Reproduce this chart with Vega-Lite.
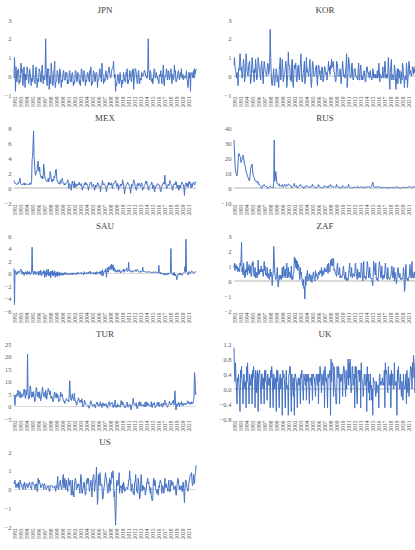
{
  "$schema": "https://vega.github.io/schema/vega-lite/v6.json",
  "background": "white",
  "padding": {"left": 4, "right": 2, "top": 6, "bottom": 0},
  "config": {
    "font": "Liberation Serif",
    "view": {"stroke": null},
    "title": {"font": "Liberation Serif", "fontSize": 9, "fontWeight": "normal", "color": "#404040", "offset": 2},
    "axis": {"labelFont": "Liberation Serif", "labelColor": "#595959", "domain": false, "ticks": false, "grid": false, "title": null},
    "axisX": {"labelAngle": -90, "labelFontSize": 5.5, "labelOverlap": false, "labelPadding": 1},
    "axisY": {"labelFontSize": 6.5, "labelPadding": 3, "labelOverlap": false},
    "line": {"color": "#4472C4", "strokeWidth": 1},
    "rule": {"color": "#d9d9d9", "strokeWidth": 0.8}
  },
  "datasets": {
    "m": [
{"t":"1992-01","JPN":-0.1,"KOR":0.6,"MEX":1.0,"RUS":32,"SAU":0.8,"ZAF":0.9,"TUR":4.8,"UK":1.1,"US":0.4},
{"t":"1992-02","JPN":1.0,"KOR":1.0,"MEX":0.8,"RUS":24,"SAU":-5.0,"ZAF":1.2,"TUR":3.2,"UK":0.5,"US":0.3},
{"t":"1992-03","JPN":0.2,"KOR":0.5,"MEX":0.6,"RUS":16,"SAU":0.5,"ZAF":0.7,"TUR":0.5,"UK":0.2,"US":0.5},
{"t":"1992-04","JPN":-0.8,"KOR":0.3,"MEX":0.6,"RUS":12,"SAU":0.1,"ZAF":1.0,"TUR":4.6,"UK":0.7,"US":0.2},
{"t":"1992-05","JPN":0.5,"KOR":0.2,"MEX":0.5,"RUS":10,"SAU":0.3,"ZAF":1.1,"TUR":3.7,"UK":0.3,"US":0.1},
{"t":"1992-06","JPN":0.0,"KOR":-0.1,"MEX":0.5,"RUS":9,"SAU":-0.2,"ZAF":0.8,"TUR":4.0,"UK":0.0,"US":0.3},
{"t":"1992-07","JPN":-0.3,"KOR":0.2,"MEX":0.5,"RUS":8,"SAU":0.2,"ZAF":1.0,"TUR":5.2,"UK":-0.4,"US":0.2},
{"t":"1992-08","JPN":0.3,"KOR":0.1,"MEX":0.5,"RUS":11,"SAU":0.0,"ZAF":0.6,"TUR":4.4,"UK":0.3,"US":0.3},
{"t":"1992-09","JPN":0.2,"KOR":-0.5,"MEX":0.7,"RUS":16,"SAU":0.3,"ZAF":0.9,"TUR":6.6,"UK":0.2,"US":0.1},
{"t":"1992-10","JPN":0.4,"KOR":0.4,"MEX":0.6,"RUS":22,"SAU":0.4,"ZAF":0.7,"TUR":5.8,"UK":0.4,"US":0.4},
{"t":"1992-11","JPN":-0.4,"KOR":0.3,"MEX":0.8,"RUS":23,"SAU":0.1,"ZAF":0.8,"TUR":4.2,"UK":0.1,"US":0.1},
{"t":"1992-12","JPN":-0.2,"KOR":0.7,"MEX":1.2,"RUS":22,"SAU":0.2,"ZAF":0.6,"TUR":3.6,"UK":-0.2,"US":0.0},
{"t":"1993-01","JPN":-0.3,"KOR":1.2,"MEX":1.3,"RUS":21,"SAU":0.4,"ZAF":1.2,"TUR":6.0,"UK":-0.6,"US":0.5},
{"t":"1993-02","JPN":0.1,"KOR":0.8,"MEX":0.6,"RUS":20,"SAU":0.6,"ZAF":1.0,"TUR":4.4,"UK":0.5,"US":0.4},
{"t":"1993-03","JPN":0.7,"KOR":0.3,"MEX":0.5,"RUS":17,"SAU":0.7,"ZAF":1.4,"TUR":3.5,"UK":0.3,"US":0.3},
{"t":"1993-04","JPN":0.2,"KOR":0.5,"MEX":0.5,"RUS":18,"SAU":0.2,"ZAF":2.6,"TUR":5.1,"UK":0.6,"US":0.3},
{"t":"1993-05","JPN":0.4,"KOR":-0.1,"MEX":0.4,"RUS":19,"SAU":-0.1,"ZAF":0.6,"TUR":4.7,"UK":0.2,"US":0.1},
{"t":"1993-06","JPN":-0.3,"KOR":0.0,"MEX":0.5,"RUS":20,"SAU":0.3,"ZAF":0.9,"TUR":3.9,"UK":0.1,"US":0.1},
{"t":"1993-07","JPN":-0.5,"KOR":0.5,"MEX":0.5,"RUS":22,"SAU":0.0,"ZAF":0.4,"TUR":4.3,"UK":-0.4,"US":0.0},
{"t":"1993-08","JPN":0.2,"KOR":0.9,"MEX":0.5,"RUS":21,"SAU":0.2,"ZAF":1.2,"TUR":5.5,"UK":0.3,"US":0.3},
{"t":"1993-09","JPN":0.5,"KOR":0.6,"MEX":0.7,"RUS":18,"SAU":-0.3,"ZAF":0.8,"TUR":7.0,"UK":0.4,"US":0.2},
{"t":"1993-10","JPN":0.0,"KOR":-0.3,"MEX":0.4,"RUS":16,"SAU":0.1,"ZAF":0.2,"TUR":6.2,"UK":0.1,"US":0.4},
{"t":"1993-11","JPN":-0.6,"KOR":-0.1,"MEX":0.4,"RUS":15,"SAU":0.2,"ZAF":0.7,"TUR":3.8,"UK":0.0,"US":0.1},
{"t":"1993-12","JPN":0.1,"KOR":0.2,"MEX":0.6,"RUS":13,"SAU":0.0,"ZAF":0.3,"TUR":3.2,"UK":0.2,"US":0.0},
{"t":"1994-01","JPN":-0.2,"KOR":1.2,"MEX":0.5,"RUS":11,"SAU":0.3,"ZAF":0.8,"TUR":6.5,"UK":-0.5,"US":0.3},
{"t":"1994-02","JPN":-0.1,"KOR":0.9,"MEX":0.5,"RUS":10,"SAU":-0.2,"ZAF":0.6,"TUR":4.5,"UK":0.6,"US":0.3},
{"t":"1994-03","JPN":0.5,"KOR":0.3,"MEX":0.5,"RUS":9,"SAU":0.1,"ZAF":1.3,"TUR":6.2,"UK":0.2,"US":0.3},
{"t":"1994-04","JPN":0.3,"KOR":0.1,"MEX":0.5,"RUS":8,"SAU":0.4,"ZAF":0.4,"TUR":21.0,"UK":0.7,"US":0.1},
{"t":"1994-05","JPN":0.1,"KOR":0.0,"MEX":0.5,"RUS":7,"SAU":-0.1,"ZAF":0.9,"TUR":5.9,"UK":0.2,"US":0.1},
{"t":"1994-06","JPN":-0.4,"KOR":0.5,"MEX":0.5,"RUS":6,"SAU":0.2,"ZAF":0.7,"TUR":2.9,"UK":0.1,"US":0.3},
{"t":"1994-07","JPN":-0.2,"KOR":0.7,"MEX":0.4,"RUS":5,"SAU":0.0,"ZAF":1.1,"TUR":3.1,"UK":-0.4,"US":0.3},
{"t":"1994-08","JPN":0.4,"KOR":0.8,"MEX":0.5,"RUS":5,"SAU":0.3,"ZAF":0.5,"TUR":3.8,"UK":0.4,"US":0.4},
{"t":"1994-09","JPN":0.2,"KOR":0.2,"MEX":0.7,"RUS":8,"SAU":-0.2,"ZAF":0.6,"TUR":8.2,"UK":0.3,"US":0.2},
{"t":"1994-10","JPN":0.0,"KOR":-0.4,"MEX":0.5,"RUS":13,"SAU":0.1,"ZAF":1.0,"TUR":8.1,"UK":0.1,"US":0.1},
{"t":"1994-11","JPN":-0.5,"KOR":-0.2,"MEX":0.5,"RUS":14,"SAU":0.0,"ZAF":0.3,"TUR":4.8,"UK":0.1,"US":0.1},
{"t":"1994-12","JPN":-0.1,"KOR":0.4,"MEX":0.9,"RUS":15,"SAU":0.2,"ZAF":0.4,"TUR":3.6,"UK":0.4,"US":0.0},
{"t":"1995-01","JPN":-0.3,"KOR":1.0,"MEX":3.8,"RUS":16,"SAU":4.2,"ZAF":1.2,"TUR":5.8,"UK":-0.4,"US":0.4},
{"t":"1995-02","JPN":-0.2,"KOR":0.6,"MEX":4.2,"RUS":12,"SAU":0.3,"ZAF":1.0,"TUR":4.1,"UK":0.5,"US":0.4},
{"t":"1995-03","JPN":0.6,"KOR":0.2,"MEX":5.9,"RUS":9,"SAU":0.1,"ZAF":1.3,"TUR":3.8,"UK":0.3,"US":0.3},
{"t":"1995-04","JPN":0.1,"KOR":0.3,"MEX":7.6,"RUS":8,"SAU":-0.2,"ZAF":0.6,"TUR":6.0,"UK":0.6,"US":0.3},
{"t":"1995-05","JPN":-0.2,"KOR":-0.3,"MEX":4.2,"RUS":7,"SAU":0.4,"ZAF":0.3,"TUR":4.0,"UK":0.3,"US":0.2},
{"t":"1995-06","JPN":-0.3,"KOR":0.4,"MEX":3.2,"RUS":6,"SAU":0.1,"ZAF":0.5,"TUR":2.0,"UK":0.2,"US":0.2},
{"t":"1995-07","JPN":-0.4,"KOR":0.2,"MEX":2.0,"RUS":5,"SAU":-0.1,"ZAF":0.9,"TUR":2.1,"UK":-0.5,"US":0.0},
{"t":"1995-08","JPN":0.3,"KOR":0.9,"MEX":1.7,"RUS":4.5,"SAU":0.3,"ZAF":0.2,"TUR":3.2,"UK":0.5,"US":0.3},
{"t":"1995-09","JPN":0.5,"KOR":0.5,"MEX":2.1,"RUS":4,"SAU":0.2,"ZAF":0.6,"TUR":7.6,"UK":0.4,"US":0.2},
{"t":"1995-10","JPN":0.2,"KOR":-0.2,"MEX":2.1,"RUS":4.7,"SAU":-0.2,"ZAF":0.4,"TUR":7.2,"UK":-0.1,"US":0.3},
{"t":"1995-11","JPN":-0.6,"KOR":-0.1,"MEX":2.5,"RUS":4.5,"SAU":0.1,"ZAF":0.2,"TUR":5.2,"UK":0.0,"US":-0.1},
{"t":"1995-12","JPN":-0.2,"KOR":0.2,"MEX":3.3,"RUS":3.2,"SAU":0.3,"ZAF":0.3,"TUR":4.0,"UK":0.5,"US":-0.1},
{"t":"1996-01","JPN":-0.1,"KOR":1.0,"MEX":3.6,"RUS":4.1,"SAU":0.2,"ZAF":1.4,"TUR":5.7,"UK":-0.6,"US":0.6},
{"t":"1996-02","JPN":-0.3,"KOR":0.7,"MEX":2.3,"RUS":2.8,"SAU":-0.3,"ZAF":0.4,"TUR":4.6,"UK":0.4,"US":0.3},
{"t":"1996-03","JPN":0.4,"KOR":0.5,"MEX":2.2,"RUS":2.0,"SAU":0.4,"ZAF":0.7,"TUR":3.3,"UK":0.4,"US":0.5},
{"t":"1996-04","JPN":0.3,"KOR":0.3,"MEX":2.8,"RUS":2.2,"SAU":0.1,"ZAF":0.5,"TUR":5.9,"UK":0.5,"US":0.4},
{"t":"1996-05","JPN":0.2,"KOR":0.0,"MEX":1.8,"RUS":1.6,"SAU":-0.2,"ZAF":0.8,"TUR":4.2,"UK":0.2,"US":0.3},
{"t":"1996-06","JPN":-0.3,"KOR":-0.2,"MEX":1.6,"RUS":1.2,"SAU":0.5,"ZAF":0.6,"TUR":2.3,"UK":0.0,"US":0.1},
{"t":"1996-07","JPN":-0.3,"KOR":0.6,"MEX":1.4,"RUS":0.7,"SAU":0.0,"ZAF":1.0,"TUR":3.3,"UK":-0.4,"US":0.1},
{"t":"1996-08","JPN":0.2,"KOR":0.8,"MEX":1.3,"RUS":-0.2,"SAU":-0.4,"ZAF":0.6,"TUR":4.6,"UK":0.4,"US":0.2},
{"t":"1996-09","JPN":0.6,"KOR":0.4,"MEX":1.6,"RUS":0.3,"SAU":0.3,"ZAF":0.7,"TUR":7.0,"UK":0.4,"US":0.3},
{"t":"1996-10","JPN":0.1,"KOR":0.1,"MEX":1.2,"RUS":1.2,"SAU":0.2,"ZAF":0.8,"TUR":7.8,"UK":0.1,"US":0.3},
{"t":"1996-11","JPN":-0.4,"KOR":-0.4,"MEX":1.5,"RUS":1.9,"SAU":-0.1,"ZAF":0.3,"TUR":5.1,"UK":0.0,"US":0.2},
{"t":"1996-12","JPN":0.0,"KOR":0.3,"MEX":3.2,"RUS":1.4,"SAU":0.4,"ZAF":0.6,"TUR":4.1,"UK":0.3,"US":0.0},
{"t":"1997-01","JPN":-0.1,"KOR":0.8,"MEX":2.6,"RUS":2.3,"SAU":0.5,"ZAF":1.3,"TUR":5.6,"UK":-0.4,"US":0.3},
{"t":"1997-02","JPN":-0.2,"KOR":0.6,"MEX":1.7,"RUS":1.5,"SAU":-0.6,"ZAF":0.7,"TUR":4.9,"UK":0.5,"US":0.3},
{"t":"1997-03","JPN":0.3,"KOR":0.3,"MEX":1.2,"RUS":1.4,"SAU":0.2,"ZAF":1.0,"TUR":3.5,"UK":0.2,"US":0.2},
{"t":"1997-04","JPN":2.0,"KOR":0.2,"MEX":1.1,"RUS":1.0,"SAU":0.3,"ZAF":0.4,"TUR":6.5,"UK":0.5,"US":0.1},
{"t":"1997-05","JPN":0.3,"KOR":0.1,"MEX":0.9,"RUS":0.9,"SAU":-0.5,"ZAF":0.5,"TUR":5.1,"UK":0.2,"US":0.0},
{"t":"1997-06","JPN":-0.2,"KOR":0.0,"MEX":0.9,"RUS":1.1,"SAU":0.6,"ZAF":0.3,"TUR":2.9,"UK":0.1,"US":0.1},
{"t":"1997-07","JPN":-0.5,"KOR":0.4,"MEX":0.9,"RUS":0.9,"SAU":-0.2,"ZAF":0.9,"TUR":4.5,"UK":-0.3,"US":0.1},
{"t":"1997-08","JPN":0.4,"KOR":0.7,"MEX":0.9,"RUS":-0.1,"SAU":0.1,"ZAF":0.4,"TUR":5.6,"UK":0.4,"US":0.2},
{"t":"1997-09","JPN":0.3,"KOR":0.6,"MEX":1.3,"RUS":-0.3,"SAU":0.7,"ZAF":0.2,"TUR":7.3,"UK":0.3,"US":0.2},
{"t":"1997-10","JPN":0.4,"KOR":0.1,"MEX":0.8,"RUS":0.2,"SAU":-0.4,"ZAF":0.5,"TUR":6.6,"UK":0.1,"US":0.2},
{"t":"1997-11","JPN":-0.7,"KOR":0.3,"MEX":1.1,"RUS":0.6,"SAU":0.2,"ZAF":0.1,"TUR":5.7,"UK":0.1,"US":-0.1},
{"t":"1997-12","JPN":0.0,"KOR":0.7,"MEX":1.4,"RUS":1.0,"SAU":-0.3,"ZAF":0.3,"TUR":4.6,"UK":0.3,"US":-0.1},
{"t":"1998-01","JPN":-0.2,"KOR":2.5,"MEX":2.2,"RUS":1.5,"SAU":0.3,"ZAF":0.8,"TUR":6.3,"UK":-0.5,"US":0.2},
{"t":"1998-02","JPN":-0.4,"KOR":1.0,"MEX":1.8,"RUS":0.9,"SAU":-0.7,"ZAF":0.3,"TUR":4.4,"UK":0.5,"US":0.2},
{"t":"1998-03","JPN":0.7,"KOR":0.2,"MEX":1.2,"RUS":0.6,"SAU":0.4,"ZAF":0.6,"TUR":3.2,"UK":0.3,"US":0.2},
{"t":"1998-04","JPN":0.3,"KOR":-0.4,"MEX":0.9,"RUS":0.4,"SAU":0.1,"ZAF":0.5,"TUR":4.2,"UK":0.6,"US":0.2},
{"t":"1998-05","JPN":0.0,"KOR":-0.5,"MEX":0.8,"RUS":0.5,"SAU":-0.3,"ZAF":-0.3,"TUR":3.6,"UK":0.4,"US":0.2},
{"t":"1998-06","JPN":-0.5,"KOR":-0.2,"MEX":1.2,"RUS":0.1,"SAU":0.5,"ZAF":0.4,"TUR":2.3,"UK":-0.1,"US":0.1},
{"t":"1998-07","JPN":-0.4,"KOR":0.1,"MEX":1.0,"RUS":0.2,"SAU":-0.4,"ZAF":0.5,"TUR":1.9,"UK":-0.5,"US":0.1},
{"t":"1998-08","JPN":0.2,"KOR":0.4,"MEX":1.0,"RUS":3.7,"SAU":0.2,"ZAF":2.3,"TUR":2.9,"UK":0.4,"US":0.1},
{"t":"1998-09","JPN":0.4,"KOR":-0.3,"MEX":1.6,"RUS":32,"SAU":-0.2,"ZAF":1.5,"TUR":5.2,"UK":0.3,"US":0.1},
{"t":"1998-10","JPN":0.8,"KOR":-0.5,"MEX":1.4,"RUS":4.5,"SAU":0.4,"ZAF":0.6,"TUR":5.8,"UK":0.0,"US":0.2},
{"t":"1998-11","JPN":-0.6,"KOR":-0.1,"MEX":1.8,"RUS":5.7,"SAU":-0.6,"ZAF":0.3,"TUR":3.9,"UK":0.1,"US":0.0},
{"t":"1998-12","JPN":-0.3,"KOR":0.1,"MEX":2.4,"RUS":11,"SAU":0.1,"ZAF":0.1,"TUR":3.6,"UK":0.3,"US":-0.1},
{"t":"1999-01","JPN":-0.3,"KOR":0.4,"MEX":2.5,"RUS":8.4,"SAU":-0.3,"ZAF":0.2,"TUR":5.3,"UK":-0.6,"US":0.2},
{"t":"1999-02","JPN":-0.2,"KOR":0.2,"MEX":1.3,"RUS":4.1,"SAU":0.2,"ZAF":0.3,"TUR":3.4,"UK":0.5,"US":0.1},
{"t":"1999-03","JPN":0.3,"KOR":-0.3,"MEX":0.9,"RUS":2.8,"SAU":-0.5,"ZAF":0.9,"TUR":3.9,"UK":0.2,"US":0.3},
{"t":"1999-04","JPN":0.2,"KOR":0.0,"MEX":0.9,"RUS":3.0,"SAU":0.3,"ZAF":0.1,"TUR":4.9,"UK":0.5,"US":0.7},
{"t":"1999-05","JPN":0.0,"KOR":-0.2,"MEX":0.6,"RUS":2.2,"SAU":-0.2,"ZAF":-0.4,"TUR":3.4,"UK":0.2,"US":0.0},
{"t":"1999-06","JPN":-0.4,"KOR":-0.6,"MEX":0.6,"RUS":1.9,"SAU":0.1,"ZAF":0.0,"TUR":1.9,"UK":-0.1,"US":0.0},
{"t":"1999-07","JPN":-0.3,"KOR":0.3,"MEX":0.6,"RUS":2.8,"SAU":-0.4,"ZAF":0.4,"TUR":2.4,"UK":-0.5,"US":0.3},
{"t":"1999-08","JPN":0.4,"KOR":0.6,"MEX":0.5,"RUS":1.2,"SAU":0.2,"ZAF":0.1,"TUR":2.3,"UK":0.3,"US":0.3},
{"t":"1999-09","JPN":0.3,"KOR":1.0,"MEX":1.0,"RUS":1.5,"SAU":0.0,"ZAF":0.2,"TUR":4.6,"UK":0.4,"US":0.5},
{"t":"1999-10","JPN":0.0,"KOR":-0.2,"MEX":0.6,"RUS":1.4,"SAU":-0.3,"ZAF":0.4,"TUR":5.8,"UK":0.0,"US":0.2},
{"t":"1999-11","JPN":-0.6,"KOR":0.1,"MEX":0.9,"RUS":1.2,"SAU":0.1,"ZAF":0.1,"TUR":4.0,"UK":0.1,"US":0.1},
{"t":"1999-12","JPN":-0.2,"KOR":0.2,"MEX":1.0,"RUS":1.3,"SAU":-0.2,"ZAF":0.3,"TUR":4.7,"UK":0.3,"US":0.0},
{"t":"2000-01","JPN":-0.3,"KOR":0.9,"MEX":1.3,"RUS":2.3,"SAU":-0.2,"ZAF":0.9,"TUR":4.9,"UK":-0.7,"US":0.3},
{"t":"2000-02","JPN":-0.1,"KOR":0.4,"MEX":0.9,"RUS":1.0,"SAU":0.1,"ZAF":0.2,"TUR":3.6,"UK":0.5,"US":0.6},
{"t":"2000-03","JPN":0.3,"KOR":-0.3,"MEX":0.6,"RUS":0.6,"SAU":-0.3,"ZAF":0.7,"TUR":2.2,"UK":0.3,"US":0.8},
{"t":"2000-04","JPN":0.3,"KOR":-0.1,"MEX":0.5,"RUS":0.9,"SAU":0.0,"ZAF":1.0,"TUR":2.1,"UK":0.4,"US":0.1},
{"t":"2000-05","JPN":-0.2,"KOR":0.1,"MEX":0.4,"RUS":1.8,"SAU":-0.1,"ZAF":0.3,"TUR":2.2,"UK":0.3,"US":0.1},
{"t":"2000-06","JPN":-0.2,"KOR":0.2,"MEX":0.6,"RUS":2.6,"SAU":0.2,"ZAF":0.6,"TUR":1.2,"UK":0.0,"US":0.6},
{"t":"2000-07","JPN":-0.2,"KOR":0.4,"MEX":0.4,"RUS":1.8,"SAU":-0.2,"ZAF":0.8,"TUR":2.3,"UK":-0.5,"US":0.3},
{"t":"2000-08","JPN":0.2,"KOR":0.8,"MEX":0.6,"RUS":1.0,"SAU":0.0,"ZAF":0.2,"TUR":2.3,"UK":0.2,"US":0.0},
{"t":"2000-09","JPN":0.1,"KOR":0.5,"MEX":0.7,"RUS":1.3,"SAU":-0.1,"ZAF":0.7,"TUR":3.2,"UK":0.5,"US":0.5},
{"t":"2000-10","JPN":0.2,"KOR":-0.6,"MEX":0.7,"RUS":2.1,"SAU":0.1,"ZAF":1.2,"TUR":2.9,"UK":0.0,"US":0.2},
{"t":"2000-11","JPN":-0.4,"KOR":-0.2,"MEX":0.9,"RUS":1.5,"SAU":-0.2,"ZAF":0.5,"TUR":2.6,"UK":0.1,"US":0.1},
{"t":"2000-12","JPN":-0.2,"KOR":0.1,"MEX":1.1,"RUS":1.6,"SAU":0.0,"ZAF":0.2,"TUR":2.2,"UK":0.1,"US":-0.1},
{"t":"2001-01","JPN":-0.4,"KOR":1.3,"MEX":0.6,"RUS":2.8,"SAU":-0.1,"ZAF":0.9,"TUR":2.5,"UK":-0.7,"US":0.6},
{"t":"2001-02","JPN":-0.2,"KOR":0.6,"MEX":-0.1,"RUS":2.3,"SAU":-0.2,"ZAF":0.3,"TUR":1.8,"UK":0.4,"US":0.4},
{"t":"2001-03","JPN":0.2,"KOR":0.6,"MEX":0.6,"RUS":1.9,"SAU":0.0,"ZAF":0.6,"TUR":6.1,"UK":0.4,"US":0.2},
{"t":"2001-04","JPN":0.3,"KOR":0.5,"MEX":0.5,"RUS":1.8,"SAU":-0.1,"ZAF":0.6,"TUR":10.3,"UK":0.6,"US":0.4},
{"t":"2001-05","JPN":-0.2,"KOR":-0.2,"MEX":0.3,"RUS":1.8,"SAU":0.1,"ZAF":0.2,"TUR":5.1,"UK":0.6,"US":0.5},
{"t":"2001-06","JPN":-0.3,"KOR":0.0,"MEX":0.3,"RUS":1.6,"SAU":-0.2,"ZAF":0.4,"TUR":3.1,"UK":0.0,"US":0.2},
{"t":"2001-07","JPN":-0.3,"KOR":-0.3,"MEX":-0.3,"RUS":0.5,"SAU":0.0,"ZAF":1.0,"TUR":2.4,"UK":-0.6,"US":-0.3},
{"t":"2001-08","JPN":0.1,"KOR":0.8,"MEX":0.6,"RUS":0.0,"SAU":-0.1,"ZAF":0.1,"TUR":3.4,"UK":0.4,"US":0.0},
{"t":"2001-09","JPN":0.2,"KOR":0.9,"MEX":0.9,"RUS":0.6,"SAU":0.1,"ZAF":0.3,"TUR":5.1,"UK":0.2,"US":0.5},
{"t":"2001-10","JPN":0.1,"KOR":-0.3,"MEX":0.4,"RUS":1.1,"SAU":-0.2,"ZAF":0.1,"TUR":3.1,"UK":0.0,"US":-0.3},
{"t":"2001-11","JPN":-0.5,"KOR":-0.6,"MEX":0.4,"RUS":1.4,"SAU":0.0,"ZAF":0.5,"TUR":2.9,"UK":-0.2,"US":-0.1},
{"t":"2001-12","JPN":-0.3,"KOR":0.1,"MEX":0.1,"RUS":1.6,"SAU":0.1,"ZAF":0.6,"TUR":2.3,"UK":0.3,"US":-0.4},
{"t":"2002-01","JPN":-0.4,"KOR":0.6,"MEX":0.9,"RUS":3.1,"SAU":-0.1,"ZAF":1.6,"TUR":5.3,"UK":-0.7,"US":0.2},
{"t":"2002-02","JPN":-0.2,"KOR":0.4,"MEX":0.0,"RUS":1.2,"SAU":0.0,"ZAF":1.2,"TUR":3.0,"UK":0.4,"US":0.4},
{"t":"2002-03","JPN":0.3,"KOR":0.5,"MEX":0.6,"RUS":1.1,"SAU":0.1,"ZAF":1.5,"TUR":1.9,"UK":0.4,"US":0.6},
{"t":"2002-04","JPN":0.3,"KOR":0.7,"MEX":0.5,"RUS":1.2,"SAU":-0.2,"ZAF":0.9,"TUR":2.1,"UK":0.3,"US":0.5},
{"t":"2002-05","JPN":0.0,"KOR":-0.1,"MEX":0.2,"RUS":1.7,"SAU":0.0,"ZAF":1.4,"TUR":0.6,"UK":0.2,"US":0.0},
{"t":"2002-06","JPN":-0.3,"KOR":-0.3,"MEX":0.5,"RUS":0.5,"SAU":0.1,"ZAF":0.8,"TUR":0.6,"UK":0.0,"US":0.1},
{"t":"2002-07","JPN":-0.2,"KOR":0.1,"MEX":0.3,"RUS":0.7,"SAU":-0.1,"ZAF":1.3,"TUR":1.9,"UK":-0.5,"US":0.1},
{"t":"2002-08","JPN":0.2,"KOR":0.5,"MEX":0.4,"RUS":0.1,"SAU":0.2,"ZAF":0.7,"TUR":2.2,"UK":0.2,"US":0.3},
{"t":"2002-09","JPN":0.1,"KOR":0.6,"MEX":0.6,"RUS":0.4,"SAU":0.0,"ZAF":1.1,"TUR":3.5,"UK":0.3,"US":0.2},
{"t":"2002-10","JPN":0.1,"KOR":0.0,"MEX":0.4,"RUS":1.1,"SAU":-0.1,"ZAF":1.0,"TUR":3.0,"UK":0.1,"US":0.3},
{"t":"2002-11","JPN":-0.4,"KOR":-0.2,"MEX":0.8,"RUS":1.6,"SAU":0.1,"ZAF":0.5,"TUR":2.3,"UK":0.1,"US":0.0},
{"t":"2002-12","JPN":-0.2,"KOR":0.3,"MEX":0.4,"RUS":1.5,"SAU":0.0,"ZAF":0.1,"TUR":1.6,"UK":0.3,"US":-0.2},
{"t":"2003-01","JPN":-0.5,"KOR":0.7,"MEX":0.4,"RUS":2.4,"SAU":0.1,"ZAF":0.9,"TUR":2.6,"UK":-0.4,"US":0.4},
{"t":"2003-02","JPN":-0.1,"KOR":1.2,"MEX":0.3,"RUS":1.6,"SAU":0.0,"ZAF":0.4,"TUR":1.9,"UK":0.4,"US":0.8},
{"t":"2003-03","JPN":0.4,"KOR":0.6,"MEX":0.6,"RUS":1.1,"SAU":0.2,"ZAF":0.6,"TUR":1.6,"UK":0.3,"US":0.6},
{"t":"2003-04","JPN":0.3,"KOR":-0.2,"MEX":0.2,"RUS":1.0,"SAU":-0.1,"ZAF":0.2,"TUR":3.1,"UK":0.5,"US":-0.2},
{"t":"2003-05","JPN":-0.1,"KOR":-0.3,"MEX":-0.3,"RUS":0.8,"SAU":0.0,"ZAF":-0.1,"TUR":1.3,"UK":0.1,"US":-0.2},
{"t":"2003-06","JPN":-0.2,"KOR":0.0,"MEX":0.1,"RUS":0.8,"SAU":0.1,"ZAF":-0.3,"TUR":-0.2,"UK":0.0,"US":0.1},
{"t":"2003-07","JPN":-0.3,"KOR":0.2,"MEX":0.1,"RUS":0.7,"SAU":-0.2,"ZAF":0.1,"TUR":0.0,"UK":-0.3,"US":0.1},
{"t":"2003-08","JPN":0.3,"KOR":0.4,"MEX":0.3,"RUS":-0.4,"SAU":0.0,"ZAF":-0.5,"TUR":0.5,"UK":0.4,"US":0.4},
{"t":"2003-09","JPN":0.2,"KOR":0.8,"MEX":0.6,"RUS":0.3,"SAU":0.3,"ZAF":-0.4,"TUR":2.5,"UK":0.3,"US":0.3},
{"t":"2003-10","JPN":0.1,"KOR":-0.4,"MEX":0.4,"RUS":1.0,"SAU":-0.1,"ZAF":-1.2,"TUR":1.5,"UK":0.2,"US":-0.1},
{"t":"2003-11","JPN":-0.5,"KOR":-0.2,"MEX":0.8,"RUS":1.0,"SAU":0.1,"ZAF":0.3,"TUR":1.5,"UK":0.1,"US":-0.3},
{"t":"2003-12","JPN":-0.2,"KOR":0.3,"MEX":0.4,"RUS":1.1,"SAU":0.0,"ZAF":-0.3,"TUR":0.8,"UK":0.4,"US":-0.2},
{"t":"2004-01","JPN":-0.3,"KOR":1.0,"MEX":0.6,"RUS":1.8,"SAU":0.1,"ZAF":0.3,"TUR":0.7,"UK":-0.3,"US":0.5},
{"t":"2004-02","JPN":-0.1,"KOR":0.2,"MEX":0.6,"RUS":1.0,"SAU":0.2,"ZAF":0.4,"TUR":0.5,"UK":0.4,"US":0.5},
{"t":"2004-03","JPN":0.2,"KOR":0.4,"MEX":0.3,"RUS":0.8,"SAU":-0.1,"ZAF":0.7,"TUR":0.4,"UK":0.2,"US":0.6},
{"t":"2004-04","JPN":0.2,"KOR":0.2,"MEX":0.2,"RUS":1.0,"SAU":0.0,"ZAF":0.0,"TUR":0.4,"UK":0.3,"US":0.3},
{"t":"2004-05","JPN":0.0,"KOR":0.0,"MEX":-0.3,"RUS":0.7,"SAU":0.2,"ZAF":0.2,"TUR":0.3,"UK":0.4,"US":0.6},
{"t":"2004-06","JPN":-0.2,"KOR":0.1,"MEX":0.2,"RUS":0.8,"SAU":0.0,"ZAF":0.3,"TUR":-0.7,"UK":-0.1,"US":0.3},
{"t":"2004-07","JPN":-0.3,"KOR":0.6,"MEX":0.3,"RUS":0.9,"SAU":0.1,"ZAF":0.5,"TUR":0.1,"UK":-0.4,"US":-0.1},
{"t":"2004-08","JPN":0.3,"KOR":0.9,"MEX":0.6,"RUS":0.4,"SAU":0.4,"ZAF":0.1,"TUR":0.6,"UK":0.3,"US":0.1},
{"t":"2004-09","JPN":0.1,"KOR":0.2,"MEX":0.8,"RUS":0.4,"SAU":-0.1,"ZAF":0.0,"TUR":2.1,"UK":0.2,"US":0.2},
{"t":"2004-10","JPN":0.5,"KOR":-0.3,"MEX":0.7,"RUS":1.1,"SAU":0.1,"ZAF":0.4,"TUR":2.3,"UK":0.3,"US":0.5},
{"t":"2004-11","JPN":-0.5,"KOR":-0.6,"MEX":0.8,"RUS":1.1,"SAU":0.2,"ZAF":0.1,"TUR":1.4,"UK":0.1,"US":0.1},
{"t":"2004-12","JPN":-0.3,"KOR":0.0,"MEX":0.2,"RUS":1.1,"SAU":0.0,"ZAF":-0.1,"TUR":0.6,"UK":0.4,"US":-0.4},
{"t":"2005-01","JPN":-0.4,"KOR":0.8,"MEX":0.3,"RUS":2.6,"SAU":0.0,"ZAF":0.2,"TUR":0.6,"UK":-0.3,"US":0.2},
{"t":"2005-02","JPN":-0.2,"KOR":0.7,"MEX":0.3,"RUS":1.2,"SAU":0.1,"ZAF":0.4,"TUR":0.0,"UK":0.4,"US":0.6},
{"t":"2005-03","JPN":0.3,"KOR":0.3,"MEX":0.5,"RUS":1.3,"SAU":0.2,"ZAF":0.6,"TUR":0.3,"UK":0.4,"US":0.8},
{"t":"2005-04","JPN":0.2,"KOR":0.0,"MEX":0.3,"RUS":1.1,"SAU":-0.1,"ZAF":0.3,"TUR":0.7,"UK":0.3,"US":0.7},
{"t":"2005-05","JPN":0.1,"KOR":0.0,"MEX":-0.3,"RUS":0.8,"SAU":0.1,"ZAF":0.1,"TUR":1.0,"UK":0.3,"US":-0.1},
{"t":"2005-06","JPN":-0.3,"KOR":0.1,"MEX":-0.1,"RUS":0.6,"SAU":0.0,"ZAF":0.0,"TUR":0.1,"UK":0.1,"US":0.1},
{"t":"2005-07","JPN":-0.2,"KOR":0.3,"MEX":0.4,"RUS":0.5,"SAU":0.2,"ZAF":0.7,"TUR":-0.6,"UK":-0.2,"US":0.5},
{"t":"2005-08","JPN":0.2,"KOR":0.5,"MEX":0.1,"RUS":-0.1,"SAU":-0.2,"ZAF":0.3,"TUR":0.9,"UK":0.3,"US":0.5},
{"t":"2005-09","JPN":0.2,"KOR":0.6,"MEX":0.4,"RUS":0.3,"SAU":0.3,"ZAF":0.5,"TUR":1.0,"UK":0.4,"US":1.2},
{"t":"2005-10","JPN":0.1,"KOR":-0.2,"MEX":0.3,"RUS":0.6,"SAU":0.1,"ZAF":0.4,"TUR":1.8,"UK":0.2,"US":0.2},
{"t":"2005-11","JPN":-0.6,"KOR":-0.5,"MEX":0.7,"RUS":0.7,"SAU":0.0,"ZAF":0.1,"TUR":1.4,"UK":0.1,"US":-0.8},
{"t":"2005-12","JPN":-0.2,"KOR":0.2,"MEX":0.6,"RUS":0.8,"SAU":0.2,"ZAF":0.2,"TUR":0.4,"UK":0.4,"US":-0.4},
{"t":"2006-01","JPN":-0.2,"KOR":0.6,"MEX":0.6,"RUS":2.4,"SAU":0.1,"ZAF":0.6,"TUR":0.8,"UK":-0.4,"US":0.8},
{"t":"2006-02","JPN":-0.1,"KOR":0.5,"MEX":0.2,"RUS":1.7,"SAU":0.2,"ZAF":0.5,"TUR":0.2,"UK":0.4,"US":0.2},
{"t":"2006-03","JPN":0.3,"KOR":0.1,"MEX":0.1,"RUS":0.8,"SAU":-0.1,"ZAF":0.4,"TUR":0.3,"UK":0.2,"US":0.6},
{"t":"2006-04","JPN":0.4,"KOR":0.3,"MEX":0.2,"RUS":0.4,"SAU":0.3,"ZAF":0.7,"TUR":1.3,"UK":0.6,"US":0.9},
{"t":"2006-05","JPN":0.0,"KOR":-0.1,"MEX":-0.5,"RUS":0.5,"SAU":0.0,"ZAF":0.6,"TUR":1.9,"UK":0.5,"US":0.5},
{"t":"2006-06","JPN":-0.1,"KOR":-0.2,"MEX":0.1,"RUS":0.3,"SAU":0.4,"ZAF":0.5,"TUR":0.3,"UK":0.2,"US":0.2},
{"t":"2006-07","JPN":-0.3,"KOR":0.3,"MEX":0.3,"RUS":0.7,"SAU":-0.3,"ZAF":0.9,"TUR":0.9,"UK":-0.1,"US":0.3},
{"t":"2006-08","JPN":0.7,"KOR":0.5,"MEX":0.5,"RUS":0.2,"SAU":0.2,"ZAF":0.3,"TUR":-0.4,"UK":0.4,"US":0.2},
{"t":"2006-09","JPN":0.1,"KOR":0.4,"MEX":1.0,"RUS":0.1,"SAU":0.6,"ZAF":0.6,"TUR":1.3,"UK":0.2,"US":-0.5},
{"t":"2006-10","JPN":0.1,"KOR":-0.3,"MEX":0.4,"RUS":0.3,"SAU":-0.4,"ZAF":0.7,"TUR":1.3,"UK":0.1,"US":-0.5},
{"t":"2006-11","JPN":-0.4,"KOR":-0.2,"MEX":0.5,"RUS":0.6,"SAU":0.1,"ZAF":0.4,"TUR":1.3,"UK":0.3,"US":-0.1},
{"t":"2006-12","JPN":-0.1,"KOR":0.1,"MEX":0.6,"RUS":0.8,"SAU":0.3,"ZAF":0.5,"TUR":0.2,"UK":0.5,"US":0.1},
{"t":"2007-01","JPN":-0.3,"KOR":0.5,"MEX":0.5,"RUS":1.7,"SAU":0.2,"ZAF":0.9,"TUR":1.0,"UK":-0.5,"US":0.3},
{"t":"2007-02","JPN":-0.2,"KOR":0.5,"MEX":0.3,"RUS":1.1,"SAU":0.5,"ZAF":0.6,"TUR":0.4,"UK":0.6,"US":0.6},
{"t":"2007-03","JPN":0.2,"KOR":0.2,"MEX":0.2,"RUS":0.6,"SAU":0.3,"ZAF":0.8,"TUR":0.9,"UK":0.4,"US":0.9},
{"t":"2007-04","JPN":0.3,"KOR":0.1,"MEX":-0.1,"RUS":0.6,"SAU":0.8,"ZAF":0.7,"TUR":1.2,"UK":0.2,"US":0.6},
{"t":"2007-05","JPN":0.0,"KOR":0.2,"MEX":-0.5,"RUS":0.6,"SAU":-0.6,"ZAF":0.6,"TUR":0.5,"UK":0.3,"US":0.6},
{"t":"2007-06","JPN":-0.1,"KOR":-0.2,"MEX":0.1,"RUS":1.0,"SAU":0.4,"ZAF":0.9,"TUR":-0.2,"UK":0.1,"US":0.2},
{"t":"2007-07","JPN":-0.2,"KOR":0.2,"MEX":0.4,"RUS":0.9,"SAU":0.3,"ZAF":1.1,"TUR":-0.7,"UK":-0.5,"US":0.0},
{"t":"2007-08","JPN":0.2,"KOR":0.3,"MEX":0.3,"RUS":0.1,"SAU":1.0,"ZAF":0.5,"TUR":0.9,"UK":0.4,"US":-0.2},
{"t":"2007-09","JPN":0.2,"KOR":0.8,"MEX":0.8,"RUS":0.8,"SAU":0.2,"ZAF":1.2,"TUR":1.0,"UK":0.3,"US":0.3},
{"t":"2007-10","JPN":0.5,"KOR":0.3,"MEX":0.4,"RUS":1.6,"SAU":1.1,"ZAF":0.8,"TUR":1.8,"UK":0.3,"US":0.2},
{"t":"2007-11","JPN":0.2,"KOR":0.5,"MEX":0.7,"RUS":1.2,"SAU":0.9,"ZAF":0.6,"TUR":1.9,"UK":0.4,"US":0.6},
{"t":"2007-12","JPN":0.1,"KOR":0.1,"MEX":0.4,"RUS":1.1,"SAU":0.6,"ZAF":0.7,"TUR":0.2,"UK":0.5,"US":-0.1},
{"t":"2008-01","JPN":-0.1,"KOR":0.6,"MEX":0.5,"RUS":2.3,"SAU":1.3,"ZAF":1.4,"TUR":0.8,"UK":-0.7,"US":0.5},
{"t":"2008-02","JPN":0.0,"KOR":0.4,"MEX":0.4,"RUS":1.2,"SAU":0.8,"ZAF":1.0,"TUR":1.3,"UK":0.8,"US":0.3},
{"t":"2008-03","JPN":0.3,"KOR":0.9,"MEX":0.7,"RUS":1.2,"SAU":1.5,"ZAF":1.3,"TUR":1.0,"UK":0.2,"US":0.9},
{"t":"2008-04","JPN":0.4,"KOR":0.5,"MEX":0.2,"RUS":1.4,"SAU":0.6,"ZAF":1.5,"TUR":1.7,"UK":0.6,"US":0.6},
{"t":"2008-05","JPN":0.4,"KOR":0.5,"MEX":-0.1,"RUS":1.4,"SAU":1.2,"ZAF":1.0,"TUR":1.5,"UK":0.7,"US":0.8},
{"t":"2008-06","JPN":0.5,"KOR":0.8,"MEX":0.4,"RUS":1.0,"SAU":1.4,"ZAF":1.2,"TUR":-0.4,"UK":0.6,"US":1.0},
{"t":"2008-07","JPN":0.8,"KOR":0.6,"MEX":0.6,"RUS":0.5,"SAU":0.4,"ZAF":1.5,"TUR":0.6,"UK":-0.2,"US":0.5},
{"t":"2008-08","JPN":0.2,"KOR":0.2,"MEX":0.6,"RUS":0.4,"SAU":1.0,"ZAF":0.7,"TUR":-0.2,"UK":0.6,"US":-0.4},
{"t":"2008-09","JPN":-0.1,"KOR":0.2,"MEX":0.7,"RUS":0.8,"SAU":0.8,"ZAF":0.8,"TUR":0.5,"UK":0.4,"US":-0.1},
{"t":"2008-10","JPN":0.1,"KOR":-0.1,"MEX":0.7,"RUS":0.9,"SAU":0.3,"ZAF":0.6,"TUR":2.6,"UK":0.0,"US":-1.0},
{"t":"2008-11","JPN":-0.8,"KOR":-0.3,"MEX":1.0,"RUS":0.8,"SAU":0.6,"ZAF":0.5,"TUR":0.8,"UK":-0.1,"US":-1.9},
{"t":"2008-12","JPN":-0.4,"KOR":-0.2,"MEX":0.7,"RUS":0.7,"SAU":0.2,"ZAF":0.4,"TUR":-0.4,"UK":-0.4,"US":-1.0},
{"t":"2009-01","JPN":-0.5,"KOR":0.8,"MEX":0.2,"RUS":2.4,"SAU":0.3,"ZAF":0.3,"TUR":0.3,"UK":-0.4,"US":0.4},
{"t":"2009-02","JPN":-0.2,"KOR":0.7,"MEX":0.2,"RUS":1.7,"SAU":0.4,"ZAF":1.0,"TUR":-0.3,"UK":0.6,"US":0.5},
{"t":"2009-03","JPN":0.0,"KOR":0.6,"MEX":0.6,"RUS":1.3,"SAU":0.6,"ZAF":1.2,"TUR":1.1,"UK":0.4,"US":0.2},
{"t":"2009-04","JPN":0.1,"KOR":0.0,"MEX":0.4,"RUS":0.7,"SAU":0.2,"ZAF":0.6,"TUR":0.0,"UK":0.3,"US":0.3},
{"t":"2009-05","JPN":-0.2,"KOR":0.0,"MEX":-0.3,"RUS":0.6,"SAU":0.5,"ZAF":0.4,"TUR":0.6,"UK":0.6,"US":0.3},
{"t":"2009-06","JPN":-0.4,"KOR":0.0,"MEX":0.2,"RUS":0.6,"SAU":0.3,"ZAF":0.5,"TUR":0.1,"UK":0.4,"US":0.9},
{"t":"2009-07","JPN":-0.3,"KOR":0.1,"MEX":0.3,"RUS":0.6,"SAU":0.6,"ZAF":0.9,"TUR":0.3,"UK":-0.4,"US":-0.2},
{"t":"2009-08","JPN":0.2,"KOR":0.4,"MEX":0.2,"RUS":0.0,"SAU":0.4,"ZAF":0.2,"TUR":-0.3,"UK":0.4,"US":0.2},
{"t":"2009-09","JPN":-0.2,"KOR":0.1,"MEX":0.5,"RUS":0.0,"SAU":0.1,"ZAF":0.4,"TUR":0.4,"UK":0.2,"US":0.1},
{"t":"2009-10","JPN":-0.2,"KOR":-0.4,"MEX":0.3,"RUS":0.0,"SAU":0.3,"ZAF":0.3,"TUR":2.4,"UK":0.2,"US":0.2},
{"t":"2009-11","JPN":-0.6,"KOR":0.0,"MEX":0.5,"RUS":0.3,"SAU":0.2,"ZAF":0.2,"TUR":1.3,"UK":0.3,"US":0.1},
{"t":"2009-12","JPN":-0.2,"KOR":0.3,"MEX":0.4,"RUS":0.4,"SAU":0.4,"ZAF":0.3,"TUR":0.5,"UK":0.4,"US":-0.2},
{"t":"2010-01","JPN":-0.4,"KOR":0.8,"MEX":1.1,"RUS":1.6,"SAU":0.5,"ZAF":0.4,"TUR":1.9,"UK":-0.2,"US":0.3},
{"t":"2010-02","JPN":-0.2,"KOR":0.4,"MEX":0.6,"RUS":0.9,"SAU":0.4,"ZAF":0.9,"TUR":1.5,"UK":0.4,"US":0.0},
{"t":"2010-03","JPN":0.2,"KOR":0.0,"MEX":0.6,"RUS":0.6,"SAU":0.7,"ZAF":1.0,"TUR":0.6,"UK":0.6,"US":0.4},
{"t":"2010-04","JPN":0.0,"KOR":0.1,"MEX":-0.3,"RUS":0.3,"SAU":0.2,"ZAF":0.4,"TUR":0.6,"UK":0.6,"US":0.2},
{"t":"2010-05","JPN":-0.2,"KOR":0.0,"MEX":-0.8,"RUS":0.5,"SAU":0.6,"ZAF":0.2,"TUR":-0.4,"UK":0.3,"US":-0.1},
{"t":"2010-06","JPN":-0.3,"KOR":-0.1,"MEX":0.0,"RUS":0.4,"SAU":0.5,"ZAF":0.1,"TUR":-0.6,"UK":0.1,"US":-0.1},
{"t":"2010-07","JPN":-0.3,"KOR":0.3,"MEX":0.2,"RUS":0.4,"SAU":0.6,"ZAF":0.6,"TUR":-0.5,"UK":-0.2,"US":0.0},
{"t":"2010-08","JPN":0.2,"KOR":0.6,"MEX":0.3,"RUS":0.6,"SAU":0.7,"ZAF":0.1,"TUR":0.4,"UK":0.5,"US":0.1},
{"t":"2010-09","JPN":0.0,"KOR":1.2,"MEX":0.5,"RUS":0.8,"SAU":0.9,"ZAF":0.2,"TUR":1.2,"UK":0.0,"US":0.1},
{"t":"2010-10","JPN":0.4,"KOR":-0.6,"MEX":0.6,"RUS":0.5,"SAU":0.3,"ZAF":0.0,"TUR":1.8,"UK":0.3,"US":0.1},
{"t":"2010-11","JPN":-0.4,"KOR":-0.2,"MEX":0.8,"RUS":0.8,"SAU":0.4,"ZAF":0.2,"TUR":0.0,"UK":0.3,"US":0.0},
{"t":"2010-12","JPN":-0.4,"KOR":0.3,"MEX":0.5,"RUS":1.1,"SAU":0.5,"ZAF":0.1,"TUR":-0.3,"UK":0.8,"US":0.2},
{"t":"2011-01","JPN":-0.2,"KOR":1.0,"MEX":0.5,"RUS":2.4,"SAU":1.8,"ZAF":0.5,"TUR":0.4,"UK":0.1,"US":0.5},
{"t":"2011-02","JPN":-0.2,"KOR":0.7,"MEX":0.4,"RUS":0.8,"SAU":0.4,"ZAF":0.8,"TUR":0.7,"UK":0.7,"US":0.5},
{"t":"2011-03","JPN":0.3,"KOR":0.5,"MEX":0.2,"RUS":0.6,"SAU":0.5,"ZAF":1.2,"TUR":0.4,"UK":0.3,"US":1.0},
{"t":"2011-04","JPN":0.2,"KOR":0.0,"MEX":-0.1,"RUS":0.4,"SAU":0.3,"ZAF":0.5,"TUR":0.9,"UK":0.8,"US":0.6},
{"t":"2011-05","JPN":0.0,"KOR":-0.1,"MEX":-0.7,"RUS":0.5,"SAU":0.4,"ZAF":0.3,"TUR":-0.9,"UK":0.2,"US":0.5},
{"t":"2011-06","JPN":-0.2,"KOR":0.0,"MEX":0.0,"RUS":0.2,"SAU":0.2,"ZAF":0.4,"TUR":-1.4,"UK":-0.1,"US":-0.1},
{"t":"2011-07","JPN":-0.3,"KOR":0.6,"MEX":0.5,"RUS":0.0,"SAU":0.3,"ZAF":0.9,"TUR":0.3,"UK":0.0,"US":0.1},
{"t":"2011-08","JPN":0.3,"KOR":0.7,"MEX":0.2,"RUS":-0.2,"SAU":0.5,"ZAF":0.2,"TUR":0.7,"UK":0.6,"US":0.3},
{"t":"2011-09","JPN":0.0,"KOR":0.0,"MEX":0.3,"RUS":0.0,"SAU":0.4,"ZAF":0.3,"TUR":0.8,"UK":0.6,"US":0.1},
{"t":"2011-10","JPN":0.4,"KOR":-0.2,"MEX":0.7,"RUS":0.5,"SAU":0.2,"ZAF":0.5,"TUR":3.3,"UK":0.1,"US":-0.2},
{"t":"2011-11","JPN":-0.7,"KOR":-0.1,"MEX":1.1,"RUS":0.4,"SAU":0.3,"ZAF":0.4,"TUR":1.7,"UK":0.2,"US":-0.1},
{"t":"2011-12","JPN":-0.2,"KOR":0.4,"MEX":0.8,"RUS":0.4,"SAU":0.4,"ZAF":0.3,"TUR":0.6,"UK":0.4,"US":-0.3},
{"t":"2012-01","JPN":0.0,"KOR":0.4,"MEX":0.7,"RUS":0.5,"SAU":0.5,"ZAF":0.3,"TUR":0.6,"UK":-0.5,"US":0.4},
{"t":"2012-02","JPN":0.4,"KOR":0.4,"MEX":0.2,"RUS":0.4,"SAU":0.6,"ZAF":1.1,"TUR":0.6,"UK":0.6,"US":0.4},
{"t":"2012-03","JPN":0.4,"KOR":0.0,"MEX":-0.1,"RUS":0.6,"SAU":0.4,"ZAF":1.2,"TUR":0.4,"UK":0.3,"US":0.8},
{"t":"2012-04","JPN":0.2,"KOR":0.0,"MEX":-0.3,"RUS":0.3,"SAU":0.3,"ZAF":0.5,"TUR":1.5,"UK":0.6,"US":0.3},
{"t":"2012-05","JPN":-0.1,"KOR":-0.1,"MEX":-0.3,"RUS":0.5,"SAU":0.4,"ZAF":0.3,"TUR":-0.2,"UK":-0.1,"US":-0.1},
{"t":"2012-06","JPN":-0.4,"KOR":-0.1,"MEX":0.5,"RUS":0.9,"SAU":0.7,"ZAF":0.1,"TUR":-0.9,"UK":-0.4,"US":-0.1},
{"t":"2012-07","JPN":-0.4,"KOR":-0.2,"MEX":0.6,"RUS":1.2,"SAU":0.5,"ZAF":0.8,"TUR":-0.2,"UK":0.1,"US":-0.2},
{"t":"2012-08","JPN":0.2,"KOR":0.4,"MEX":0.3,"RUS":0.1,"SAU":0.4,"ZAF":0.2,"TUR":0.6,"UK":0.5,"US":0.6},
{"t":"2012-09","JPN":0.3,"KOR":0.7,"MEX":0.6,"RUS":0.6,"SAU":0.3,"ZAF":0.4,"TUR":1.0,"UK":0.4,"US":0.4},
{"t":"2012-10","JPN":-0.2,"KOR":-0.2,"MEX":0.5,"RUS":0.5,"SAU":0.2,"ZAF":0.6,"TUR":1.9,"UK":0.5,"US":-0.1},
{"t":"2012-11","JPN":-0.4,"KOR":-0.2,"MEX":0.6,"RUS":0.3,"SAU":0.3,"ZAF":0.3,"TUR":0.4,"UK":0.2,"US":-0.5},
{"t":"2012-12","JPN":-0.1,"KOR":0.3,"MEX":0.2,"RUS":0.5,"SAU":0.2,"ZAF":0.2,"TUR":0.4,"UK":0.5,"US":-0.3},
{"t":"2013-01","JPN":-0.2,"KOR":0.6,"MEX":0.4,"RUS":1.0,"SAU":0.4,"ZAF":0.4,"TUR":1.7,"UK":-0.5,"US":0.3},
{"t":"2013-02","JPN":-0.2,"KOR":0.3,"MEX":0.5,"RUS":0.6,"SAU":0.3,"ZAF":1.2,"TUR":0.3,"UK":0.7,"US":0.8},
{"t":"2013-03","JPN":0.2,"KOR":-0.2,"MEX":0.7,"RUS":0.3,"SAU":0.2,"ZAF":1.2,"TUR":0.7,"UK":0.3,"US":0.3},
{"t":"2013-04","JPN":0.1,"KOR":0.0,"MEX":0.1,"RUS":0.5,"SAU":0.3,"ZAF":0.4,"TUR":0.4,"UK":0.2,"US":-0.1},
{"t":"2013-05","JPN":0.0,"KOR":-0.2,"MEX":-0.3,"RUS":0.7,"SAU":1.0,"ZAF":0.0,"TUR":0.2,"UK":0.2,"US":0.2},
{"t":"2013-06","JPN":0.1,"KOR":0.0,"MEX":0.0,"RUS":0.4,"SAU":0.4,"ZAF":0.3,"TUR":0.8,"UK":-0.2,"US":0.2},
{"t":"2013-07","JPN":0.1,"KOR":0.2,"MEX":0.0,"RUS":0.8,"SAU":0.3,"ZAF":1.3,"TUR":0.3,"UK":0.0,"US":0.0},
{"t":"2013-08","JPN":0.3,"KOR":0.3,"MEX":0.3,"RUS":0.1,"SAU":0.4,"ZAF":0.2,"TUR":-0.1,"UK":0.4,"US":0.1},
{"t":"2013-09","JPN":0.3,"KOR":0.0,"MEX":0.4,"RUS":0.2,"SAU":0.3,"ZAF":0.3,"TUR":0.8,"UK":0.3,"US":0.1},
{"t":"2013-10","JPN":0.2,"KOR":-0.3,"MEX":0.5,"RUS":0.6,"SAU":0.2,"ZAF":0.3,"TUR":1.8,"UK":0.1,"US":-0.3},
{"t":"2013-11","JPN":0.0,"KOR":-0.3,"MEX":0.9,"RUS":0.6,"SAU":0.3,"ZAF":0.1,"TUR":0.0,"UK":0.1,"US":-0.2},
{"t":"2013-12","JPN":0.0,"KOR":0.2,"MEX":0.6,"RUS":0.5,"SAU":0.2,"ZAF":0.2,"TUR":0.5,"UK":0.4,"US":0.0},
{"t":"2014-01","JPN":-0.1,"KOR":0.5,"MEX":0.9,"RUS":0.6,"SAU":0.2,"ZAF":0.7,"TUR":1.9,"UK":-0.6,"US":0.4},
{"t":"2014-02","JPN":-0.1,"KOR":0.5,"MEX":0.3,"RUS":0.7,"SAU":0.3,"ZAF":1.3,"TUR":0.4,"UK":0.6,"US":0.4},
{"t":"2014-03","JPN":0.3,"KOR":0.2,"MEX":0.3,"RUS":1.0,"SAU":0.2,"ZAF":1.1,"TUR":1.1,"UK":0.2,"US":0.6},
{"t":"2014-04","JPN":2.0,"KOR":0.1,"MEX":-0.2,"RUS":0.9,"SAU":0.3,"ZAF":0.6,"TUR":1.3,"UK":0.4,"US":0.3},
{"t":"2014-05","JPN":0.4,"KOR":0.2,"MEX":-0.3,"RUS":0.9,"SAU":0.2,"ZAF":0.2,"TUR":0.4,"UK":-0.1,"US":0.4},
{"t":"2014-06","JPN":0.1,"KOR":-0.1,"MEX":0.2,"RUS":0.6,"SAU":0.2,"ZAF":0.3,"TUR":0.3,"UK":0.2,"US":0.2},
{"t":"2014-07","JPN":-0.2,"KOR":0.1,"MEX":0.3,"RUS":0.5,"SAU":0.3,"ZAF":0.9,"TUR":0.5,"UK":-0.3,"US":0.0},
{"t":"2014-08","JPN":0.3,"KOR":0.3,"MEX":0.4,"RUS":0.2,"SAU":0.2,"ZAF":0.2,"TUR":0.1,"UK":0.4,"US":-0.2},
{"t":"2014-09","JPN":0.2,"KOR":0.0,"MEX":0.4,"RUS":0.7,"SAU":0.2,"ZAF":0.2,"TUR":0.1,"UK":0.0,"US":0.1},
{"t":"2014-10","JPN":-0.2,"KOR":-0.1,"MEX":0.5,"RUS":0.8,"SAU":0.1,"ZAF":0.2,"TUR":1.9,"UK":0.1,"US":-0.3},
{"t":"2014-11","JPN":-0.3,"KOR":-0.2,"MEX":0.8,"RUS":1.3,"SAU":0.2,"ZAF":0.1,"TUR":0.2,"UK":-0.3,"US":-0.5},
{"t":"2014-12","JPN":-0.1,"KOR":0.0,"MEX":0.5,"RUS":2.6,"SAU":0.1,"ZAF":-0.1,"TUR":-0.4,"UK":0.0,"US":-0.6},
{"t":"2015-01","JPN":-0.4,"KOR":0.4,"MEX":-0.1,"RUS":3.9,"SAU":0.1,"ZAF":-0.3,"TUR":1.1,"UK":-0.7,"US":-0.5},
{"t":"2015-02","JPN":-0.2,"KOR":0.3,"MEX":0.2,"RUS":2.2,"SAU":0.3,"ZAF":0.6,"TUR":0.7,"UK":0.3,"US":0.4},
{"t":"2015-03","JPN":0.2,"KOR":-0.1,"MEX":0.4,"RUS":1.2,"SAU":0.2,"ZAF":1.3,"TUR":1.2,"UK":0.2,"US":0.6},
{"t":"2015-04","JPN":0.4,"KOR":0.1,"MEX":-0.3,"RUS":0.5,"SAU":0.2,"ZAF":0.9,"TUR":1.6,"UK":0.2,"US":0.2},
{"t":"2015-05","JPN":0.3,"KOR":0.1,"MEX":-0.5,"RUS":0.4,"SAU":0.1,"ZAF":0.7,"TUR":0.6,"UK":0.2,"US":0.5},
{"t":"2015-06","JPN":-0.1,"KOR":-0.1,"MEX":0.2,"RUS":0.2,"SAU":0.2,"ZAF":0.4,"TUR":-0.5,"UK":0.0,"US":0.4},
{"t":"2015-07","JPN":-0.1,"KOR":0.1,"MEX":0.2,"RUS":0.8,"SAU":0.3,"ZAF":1.2,"TUR":0.1,"UK":-0.2,"US":0.0},
{"t":"2015-08","JPN":0.2,"KOR":0.0,"MEX":0.2,"RUS":0.4,"SAU":0.2,"ZAF":0.1,"TUR":0.4,"UK":0.2,"US":-0.1},
{"t":"2015-09","JPN":0.0,"KOR":-0.1,"MEX":0.4,"RUS":0.6,"SAU":0.1,"ZAF":0.1,"TUR":0.9,"UK":-0.1,"US":-0.2},
{"t":"2015-10","JPN":0.0,"KOR":0.3,"MEX":0.5,"RUS":0.7,"SAU":0.1,"ZAF":0.2,"TUR":1.6,"UK":0.1,"US":0.0},
{"t":"2015-11","JPN":-0.2,"KOR":-0.1,"MEX":0.6,"RUS":0.8,"SAU":0.2,"ZAF":0.0,"TUR":0.7,"UK":0.1,"US":-0.2},
{"t":"2015-12","JPN":-0.2,"KOR":0.0,"MEX":0.4,"RUS":0.8,"SAU":0.1,"ZAF":0.3,"TUR":0.2,"UK":0.1,"US":-0.3},
{"t":"2016-01","JPN":-0.4,"KOR":0.7,"MEX":0.4,"RUS":1.0,"SAU":1.3,"ZAF":0.8,"TUR":1.8,"UK":-0.5,"US":0.2},
{"t":"2016-02","JPN":0.0,"KOR":0.3,"MEX":0.4,"RUS":0.6,"SAU":0.3,"ZAF":1.3,"TUR":0.0,"UK":0.3,"US":0.1},
{"t":"2016-03","JPN":0.1,"KOR":-0.3,"MEX":0.2,"RUS":0.5,"SAU":0.1,"ZAF":1.1,"TUR":0.0,"UK":0.4,"US":0.4},
{"t":"2016-04","JPN":0.0,"KOR":0.1,"MEX":-0.3,"RUS":0.4,"SAU":-0.1,"ZAF":0.7,"TUR":0.8,"UK":0.1,"US":0.5},
{"t":"2016-05","JPN":0.3,"KOR":0.0,"MEX":-0.5,"RUS":0.4,"SAU":0.2,"ZAF":0.2,"TUR":0.6,"UK":0.2,"US":0.4},
{"t":"2016-06","JPN":-0.1,"KOR":0.0,"MEX":0.1,"RUS":0.4,"SAU":0.1,"ZAF":0.4,"TUR":0.5,"UK":0.2,"US":0.3},
{"t":"2016-07","JPN":-0.4,"KOR":-0.1,"MEX":0.3,"RUS":0.5,"SAU":0.0,"ZAF":1.0,"TUR":1.2,"UK":0.1,"US":-0.2},
{"t":"2016-08","JPN":0.1,"KOR":0.0,"MEX":0.3,"RUS":0.0,"SAU":-0.1,"ZAF":0.2,"TUR":-0.3,"UK":0.3,"US":0.1},
{"t":"2016-09","JPN":0.1,"KOR":0.5,"MEX":0.6,"RUS":0.2,"SAU":0.1,"ZAF":0.1,"TUR":0.2,"UK":0.2,"US":0.2},
{"t":"2016-10","JPN":0.6,"KOR":0.1,"MEX":0.6,"RUS":0.4,"SAU":0.0,"ZAF":0.4,"TUR":1.4,"UK":0.1,"US":0.1},
{"t":"2016-11","JPN":-0.4,"KOR":-0.1,"MEX":0.8,"RUS":0.4,"SAU":-0.2,"ZAF":0.2,"TUR":0.5,"UK":0.2,"US":-0.2},
{"t":"2016-12","JPN":-0.5,"KOR":0.2,"MEX":0.5,"RUS":0.4,"SAU":0.0,"ZAF":0.2,"TUR":1.6,"UK":0.5,"US":0.0},
{"t":"2017-01","JPN":0.0,"KOR":0.8,"MEX":1.7,"RUS":0.6,"SAU":-0.3,"ZAF":0.7,"TUR":2.5,"UK":-0.5,"US":0.6},
{"t":"2017-02","JPN":0.0,"KOR":0.5,"MEX":0.6,"RUS":0.2,"SAU":-0.1,"ZAF":1.2,"TUR":0.8,"UK":0.7,"US":0.3},
{"t":"2017-03","JPN":0.0,"KOR":-0.1,"MEX":0.6,"RUS":0.1,"SAU":0.0,"ZAF":0.8,"TUR":1.0,"UK":0.4,"US":0.1},
{"t":"2017-04","JPN":0.4,"KOR":0.1,"MEX":0.1,"RUS":0.3,"SAU":-0.2,"ZAF":0.3,"TUR":1.3,"UK":0.5,"US":0.3},
{"t":"2017-05","JPN":0.3,"KOR":-0.1,"MEX":-0.1,"RUS":0.4,"SAU":0.1,"ZAF":0.2,"TUR":0.5,"UK":0.4,"US":0.1},
{"t":"2017-06","JPN":-0.2,"KOR":-0.1,"MEX":0.2,"RUS":0.6,"SAU":-0.1,"ZAF":0.1,"TUR":-0.3,"UK":0.0,"US":0.1},
{"t":"2017-07","JPN":-0.1,"KOR":0.2,"MEX":0.4,"RUS":0.1,"SAU":-0.2,"ZAF":0.9,"TUR":0.2,"UK":-0.1,"US":-0.1},
{"t":"2017-08","JPN":0.3,"KOR":1.0,"MEX":0.5,"RUS":-0.5,"SAU":0.0,"ZAF":0.2,"TUR":0.5,"UK":0.6,"US":0.3},
{"t":"2017-09","JPN":0.2,"KOR":0.3,"MEX":0.3,"RUS":-0.1,"SAU":0.1,"ZAF":0.2,"TUR":0.7,"UK":0.3,"US":0.5},
{"t":"2017-10","JPN":-0.2,"KOR":-0.3,"MEX":0.6,"RUS":0.2,"SAU":-0.1,"ZAF":0.2,"TUR":2.1,"UK":0.1,"US":-0.1},
{"t":"2017-11","JPN":-0.1,"KOR":-0.7,"MEX":1.0,"RUS":0.2,"SAU":0.0,"ZAF":0.1,"TUR":1.5,"UK":0.3,"US":0.0},
{"t":"2017-12","JPN":0.2,"KOR":0.2,"MEX":0.6,"RUS":0.4,"SAU":0.2,"ZAF":0.3,"TUR":0.7,"UK":0.4,"US":-0.1},
{"t":"2018-01","JPN":0.4,"KOR":0.6,"MEX":0.5,"RUS":0.3,"SAU":4.0,"ZAF":0.3,"TUR":1.0,"UK":-0.5,"US":0.5},
{"t":"2018-02","JPN":0.2,"KOR":0.9,"MEX":0.4,"RUS":0.2,"SAU":0.3,"ZAF":0.7,"TUR":0.7,"UK":0.5,"US":0.5},
{"t":"2018-03","JPN":-0.4,"KOR":-0.2,"MEX":0.3,"RUS":0.3,"SAU":0.1,"ZAF":1.0,"TUR":1.0,"UK":0.1,"US":0.2},
{"t":"2018-04","JPN":0.1,"KOR":0.1,"MEX":-0.3,"RUS":0.4,"SAU":-0.2,"ZAF":0.6,"TUR":1.9,"UK":0.4,"US":0.4},
{"t":"2018-05","JPN":0.1,"KOR":0.0,"MEX":-0.2,"RUS":0.4,"SAU":0.0,"ZAF":0.2,"TUR":1.6,"UK":0.4,"US":0.4},
{"t":"2018-06","JPN":-0.2,"KOR":-0.1,"MEX":0.4,"RUS":0.5,"SAU":0.1,"ZAF":0.3,"TUR":2.6,"UK":0.0,"US":0.2},
{"t":"2018-07","JPN":-0.1,"KOR":-0.2,"MEX":0.5,"RUS":0.3,"SAU":-0.3,"ZAF":0.9,"TUR":0.6,"UK":0.0,"US":0.0},
{"t":"2018-08","JPN":0.6,"KOR":0.6,"MEX":0.6,"RUS":0.0,"SAU":0.2,"ZAF":0.0,"TUR":2.3,"UK":0.7,"US":0.1},
{"t":"2018-09","JPN":0.2,"KOR":0.4,"MEX":0.4,"RUS":0.2,"SAU":-0.4,"ZAF":0.6,"TUR":6.3,"UK":0.1,"US":0.1},
{"t":"2018-10","JPN":0.3,"KOR":-0.1,"MEX":0.5,"RUS":0.4,"SAU":-0.1,"ZAF":0.4,"TUR":2.7,"UK":0.1,"US":0.2},
{"t":"2018-11","JPN":-0.3,"KOR":-0.7,"MEX":0.9,"RUS":0.5,"SAU":-0.3,"ZAF":0.2,"TUR":-1.4,"UK":0.2,"US":-0.3},
{"t":"2018-12","JPN":-0.3,"KOR":-0.3,"MEX":0.7,"RUS":0.8,"SAU":-0.5,"ZAF":-0.2,"TUR":-0.4,"UK":0.2,"US":-0.3},
{"t":"2019-01","JPN":-0.1,"KOR":0.2,"MEX":0.1,"RUS":1.0,"SAU":-1.0,"ZAF":0.1,"TUR":1.1,"UK":-0.7,"US":0.2},
{"t":"2019-02","JPN":-0.1,"KOR":0.4,"MEX":0.0,"RUS":0.4,"SAU":-0.2,"ZAF":0.6,"TUR":0.2,"UK":0.5,"US":0.4},
{"t":"2019-03","JPN":0.2,"KOR":-0.4,"MEX":0.4,"RUS":0.3,"SAU":-0.3,"ZAF":0.9,"TUR":1.0,"UK":0.2,"US":0.6},
{"t":"2019-04","JPN":0.3,"KOR":0.4,"MEX":0.1,"RUS":0.3,"SAU":-0.1,"ZAF":0.7,"TUR":1.7,"UK":0.6,"US":0.5},
{"t":"2019-05","JPN":0.1,"KOR":0.2,"MEX":-0.3,"RUS":0.3,"SAU":0.0,"ZAF":0.3,"TUR":1.0,"UK":0.3,"US":0.2},
{"t":"2019-06","JPN":-0.2,"KOR":-0.1,"MEX":0.1,"RUS":0.0,"SAU":-0.2,"ZAF":0.2,"TUR":0.0,"UK":0.0,"US":0.0},
{"t":"2019-07","JPN":-0.1,"KOR":0.3,"MEX":0.4,"RUS":0.2,"SAU":0.1,"ZAF":0.5,"TUR":1.4,"UK":0.0,"US":0.2},
{"t":"2019-08","JPN":0.2,"KOR":-0.3,"MEX":0.0,"RUS":-0.2,"SAU":-0.2,"ZAF":0.1,"TUR":0.9,"UK":0.4,"US":0.0},
{"t":"2019-09","JPN":0.0,"KOR":-0.4,"MEX":0.3,"RUS":-0.2,"SAU":0.0,"ZAF":0.1,"TUR":1.0,"UK":0.1,"US":0.1},
{"t":"2019-10","JPN":0.4,"KOR":0.2,"MEX":0.5,"RUS":0.1,"SAU":-0.1,"ZAF":0.2,"TUR":2.0,"UK":-0.2,"US":0.2},
{"t":"2019-11","JPN":-0.1,"KOR":-0.2,"MEX":0.8,"RUS":0.3,"SAU":-0.3,"ZAF":0.1,"TUR":0.4,"UK":0.2,"US":-0.1},
{"t":"2019-12","JPN":-0.1,"KOR":0.7,"MEX":0.6,"RUS":0.4,"SAU":-0.2,"ZAF":0.2,"TUR":0.7,"UK":0.0,"US":-0.1},
{"t":"2020-01","JPN":0.1,"KOR":0.6,"MEX":0.5,"RUS":0.4,"SAU":0.0,"ZAF":0.3,"TUR":1.4,"UK":-0.3,"US":0.4},
{"t":"2020-02","JPN":-0.2,"KOR":0.0,"MEX":0.4,"RUS":0.3,"SAU":0.1,"ZAF":0.9,"TUR":0.4,"UK":0.4,"US":0.3},
{"t":"2020-03","JPN":-0.1,"KOR":-0.1,"MEX":-0.1,"RUS":0.6,"SAU":0.1,"ZAF":0.6,"TUR":0.6,"UK":0.1,"US":-0.2},
{"t":"2020-04","JPN":0.0,"KOR":-0.6,"MEX":-1.0,"RUS":0.8,"SAU":0.3,"ZAF":-0.7,"TUR":0.9,"UK":0.0,"US":-0.7},
{"t":"2020-05","JPN":0.0,"KOR":0.0,"MEX":0.4,"RUS":0.3,"SAU":1.1,"ZAF":-0.5,"TUR":1.4,"UK":0.0,"US":0.0},
{"t":"2020-06","JPN":-0.1,"KOR":0.0,"MEX":0.5,"RUS":0.2,"SAU":0.2,"ZAF":0.6,"TUR":1.1,"UK":0.1,"US":0.5},
{"t":"2020-07","JPN":0.0,"KOR":-0.2,"MEX":0.7,"RUS":0.4,"SAU":5.5,"ZAF":1.1,"TUR":0.6,"UK":0.4,"US":0.5},
{"t":"2020-08","JPN":0.3,"KOR":0.7,"MEX":0.4,"RUS":0.0,"SAU":0.3,"ZAF":0.3,"TUR":0.9,"UK":-0.4,"US":0.3},
{"t":"2020-09","JPN":-0.2,"KOR":0.3,"MEX":0.2,"RUS":-0.1,"SAU":0.2,"ZAF":0.1,"TUR":1.0,"UK":0.5,"US":0.1},
{"t":"2020-10","JPN":-0.3,"KOR":-0.6,"MEX":0.6,"RUS":0.4,"SAU":0.1,"ZAF":0.2,"TUR":2.1,"UK":0.0,"US":0.0},
{"t":"2020-11","JPN":-0.6,"KOR":-0.1,"MEX":0.1,"RUS":0.7,"SAU":-0.2,"ZAF":0.0,"TUR":2.3,"UK":-0.1,"US":-0.1},
{"t":"2020-12","JPN":-0.3,"KOR":0.4,"MEX":0.4,"RUS":0.8,"SAU":-0.2,"ZAF":0.2,"TUR":1.3,"UK":0.3,"US":0.1},
{"t":"2021-01","JPN":0.2,"KOR":0.8,"MEX":0.9,"RUS":0.7,"SAU":0.3,"ZAF":0.2,"TUR":1.7,"UK":-0.2,"US":0.4},
{"t":"2021-02","JPN":-0.1,"KOR":0.5,"MEX":0.6,"RUS":0.8,"SAU":0.1,"ZAF":0.6,"TUR":0.9,"UK":0.1,"US":0.5},
{"t":"2021-03","JPN":0.2,"KOR":0.1,"MEX":0.8,"RUS":0.7,"SAU":0.2,"ZAF":1.1,"TUR":1.1,"UK":0.3,"US":0.7},
{"t":"2021-04","JPN":-0.8,"KOR":0.3,"MEX":0.3,"RUS":0.6,"SAU":0.0,"ZAF":0.6,"TUR":1.7,"UK":0.6,"US":0.8},
{"t":"2021-05","JPN":0.1,"KOR":0.1,"MEX":0.0,"RUS":0.7,"SAU":0.2,"ZAF":0.2,"TUR":0.9,"UK":0.6,"US":0.8},
{"t":"2021-06","JPN":0.1,"KOR":0.0,"MEX":0.5,"RUS":0.7,"SAU":0.4,"ZAF":0.2,"TUR":1.9,"UK":0.5,"US":0.9},
{"t":"2021-07","JPN":0.2,"KOR":0.2,"MEX":0.6,"RUS":0.3,"SAU":0.4,"ZAF":1.3,"TUR":1.8,"UK":0.0,"US":0.5},
{"t":"2021-08","JPN":0.1,"KOR":0.5,"MEX":0.2,"RUS":0.2,"SAU":0.3,"ZAF":0.3,"TUR":1.1,"UK":0.7,"US":0.2},
{"t":"2021-09","JPN":-0.1,"KOR":0.5,"MEX":0.6,"RUS":0.6,"SAU":0.1,"ZAF":0.2,"TUR":1.3,"UK":0.3,"US":0.3},
{"t":"2021-10","JPN":0.3,"KOR":0.1,"MEX":0.8,"RUS":1.1,"SAU":0.0,"ZAF":0.2,"TUR":2.4,"UK":0.9,"US":0.8},
{"t":"2021-11","JPN":-0.1,"KOR":0.4,"MEX":0.7,"RUS":1.0,"SAU":0.2,"ZAF":0.6,"TUR":3.5,"UK":0.7,"US":0.5},
{"t":"2021-12","JPN":0.4,"KOR":0.2,"MEX":0.4,"RUS":0.8,"SAU":0.2,"ZAF":0.6,"TUR":13.6,"UK":0.5,"US":0.3},
{"t":"2022-01","JPN":0.1,"KOR":0.5,"MEX":0.6,"RUS":1.0,"SAU":0.3,"ZAF":0.2,"TUR":11.1,"UK":-0.1,"US":0.8},
{"t":"2022-02","JPN":0.2,"KOR":0.6,"MEX":0.8,"RUS":1.2,"SAU":0.2,"ZAF":0.6,"TUR":4.8,"UK":0.8,"US":0.9},
{"t":"2022-03","JPN":0.4,"KOR":0.7,"MEX":0.9,"RUS":7.6,"SAU":0.3,"ZAF":1.0,"TUR":5.5,"UK":1.0,"US":1.3}
    ]
  },
  "data": {"name": "m"},
  "columns": 2,
  "spacing": {"row": 7, "column": 20},
  "concat": [
    {"title": "JPN", "width": 182, "height": 75, "layer": [
      {"mark": "rule", "encoding": {"y": {"datum": 0, "type": "quantitative", "scale": {"domain": [-1, 3]}, "axis": {"values": [-1, 0, 1, 2, 3]}}}},
      {"mark": "line", "encoding": {
        "x": {"field": "t", "type": "temporal", "scale": {"type": "utc"}, "axis": {"format": "%Y", "tickCount": {"interval": "year", "step": 1}, "labelExpr": "utcyear(datum.value) > 2021 ? '' : datum.label"}},
        "y": {"field": "JPN", "type": "quantitative", "scale": {"domain": [-1, 3]}, "axis": {"values": [-1, 0, 1, 2, 3]}}}}
    ]},
    {"title": "KOR", "width": 182, "height": 75, "layer": [
      {"mark": "rule", "encoding": {"y": {"datum": 0, "type": "quantitative", "scale": {"domain": [-1, 3]}, "axis": {"values": [-1, 0, 1, 2, 3]}}}},
      {"mark": "line", "encoding": {
        "x": {"field": "t", "type": "temporal", "scale": {"type": "utc"}, "axis": {"format": "%Y", "tickCount": {"interval": "year", "step": 1}, "labelExpr": "utcyear(datum.value) > 2021 ? '' : datum.label"}},
        "y": {"field": "KOR", "type": "quantitative", "scale": {"domain": [-1, 3]}, "axis": {"values": [-1, 0, 1, 2, 3]}}}}
    ]},
    {"title": "MEX", "width": 182, "height": 75, "layer": [
      {"mark": "rule", "encoding": {"y": {"datum": 0, "type": "quantitative", "scale": {"domain": [-2, 8]}, "axis": {"values": [-2, 0, 2, 4, 6, 8]}}}},
      {"mark": "line", "encoding": {
        "x": {"field": "t", "type": "temporal", "scale": {"type": "utc"}, "axis": {"format": "%Y", "tickCount": {"interval": "year", "step": 1}, "labelExpr": "utcyear(datum.value) > 2021 ? '' : datum.label"}},
        "y": {"field": "MEX", "type": "quantitative", "scale": {"domain": [-2, 8]}, "axis": {"values": [-2, 0, 2, 4, 6, 8]}}}}
    ]},
    {"title": "RUS", "width": 182, "height": 75, "layer": [
      {"mark": "rule", "encoding": {"y": {"datum": 0, "type": "quantitative", "scale": {"domain": [-10, 40]}, "axis": {"values": [-10, 0, 10, 20, 30, 40]}}}},
      {"mark": "line", "encoding": {
        "x": {"field": "t", "type": "temporal", "scale": {"type": "utc"}, "axis": {"format": "%Y", "tickCount": {"interval": "year", "step": 1}, "labelExpr": "utcyear(datum.value) > 2021 ? '' : datum.label"}},
        "y": {"field": "RUS", "type": "quantitative", "scale": {"domain": [-10, 40]}, "axis": {"values": [-10, 0, 10, 20, 30, 40]}}}}
    ]},
    {"title": "SAU", "width": 182, "height": 75, "layer": [
      {"mark": "rule", "encoding": {"y": {"datum": 0, "type": "quantitative", "scale": {"domain": [-6, 6]}, "axis": {"values": [-6, -4, -2, 0, 2, 4, 6]}}}},
      {"mark": "line", "encoding": {
        "x": {"field": "t", "type": "temporal", "scale": {"type": "utc"}, "axis": {"format": "%Y", "tickCount": {"interval": "year", "step": 1}, "labelExpr": "utcyear(datum.value) > 2021 ? '' : datum.label"}},
        "y": {"field": "SAU", "type": "quantitative", "scale": {"domain": [-6, 6]}, "axis": {"values": [-6, -4, -2, 0, 2, 4, 6]}}}}
    ]},
    {"title": "ZAF", "width": 182, "height": 75, "layer": [
      {"mark": "rule", "encoding": {"y": {"datum": 0, "type": "quantitative", "scale": {"domain": [-2, 3]}, "axis": {"values": [-2, -1, 0, 1, 2, 3]}}}},
      {"mark": "line", "encoding": {
        "x": {"field": "t", "type": "temporal", "scale": {"type": "utc"}, "axis": {"format": "%Y", "tickCount": {"interval": "year", "step": 1}, "labelExpr": "utcyear(datum.value) > 2021 ? '' : datum.label"}},
        "y": {"field": "ZAF", "type": "quantitative", "scale": {"domain": [-2, 3]}, "axis": {"values": [-2, -1, 0, 1, 2, 3]}}}}
    ]},
    {"title": "TUR", "width": 182, "height": 75, "layer": [
      {"mark": "rule", "encoding": {"y": {"datum": 0, "type": "quantitative", "scale": {"domain": [-5, 25]}, "axis": {"values": [-5, 0, 5, 10, 15, 20, 25]}}}},
      {"mark": "line", "encoding": {
        "x": {"field": "t", "type": "temporal", "scale": {"type": "utc"}, "axis": {"format": "%Y", "tickCount": {"interval": "year", "step": 1}, "labelExpr": "utcyear(datum.value) > 2021 ? '' : datum.label"}},
        "y": {"field": "TUR", "type": "quantitative", "scale": {"domain": [-5, 25]}, "axis": {"values": [-5, 0, 5, 10, 15, 20, 25]}}}}
    ]},
    {"title": "UK", "width": 182, "height": 75, "layer": [
      {"mark": "rule", "encoding": {"y": {"datum": 0, "type": "quantitative", "scale": {"domain": [-0.8, 1.2]}, "axis": {"values": [-0.8, -0.4, 0, 0.4, 0.8, 1.2], "format": ".1f"}}}},
      {"mark": "line", "encoding": {
        "x": {"field": "t", "type": "temporal", "scale": {"type": "utc"}, "axis": {"format": "%Y", "tickCount": {"interval": "year", "step": 1}, "labelExpr": "utcyear(datum.value) > 2021 ? '' : datum.label"}},
        "y": {"field": "UK", "type": "quantitative", "scale": {"domain": [-0.8, 1.2]}, "axis": {"values": [-0.8, -0.4, 0, 0.4, 0.8, 1.2], "format": ".1f"}}}}
    ]},
    {"title": "US", "width": 182, "height": 75, "layer": [
      {"mark": "rule", "encoding": {"y": {"datum": 0, "type": "quantitative", "scale": {"domain": [-2, 2]}, "axis": {"values": [-2, -1, 0, 1, 2]}}}},
      {"mark": "line", "encoding": {
        "x": {"field": "t", "type": "temporal", "scale": {"type": "utc"}, "axis": {"format": "%Y", "tickCount": {"interval": "year", "step": 1}, "labelExpr": "utcyear(datum.value) > 2021 ? '' : datum.label"}},
        "y": {"field": "US", "type": "quantitative", "scale": {"domain": [-2, 2]}, "axis": {"values": [-2, -1, 0, 1, 2]}}}}
    ]}
  ]
}
